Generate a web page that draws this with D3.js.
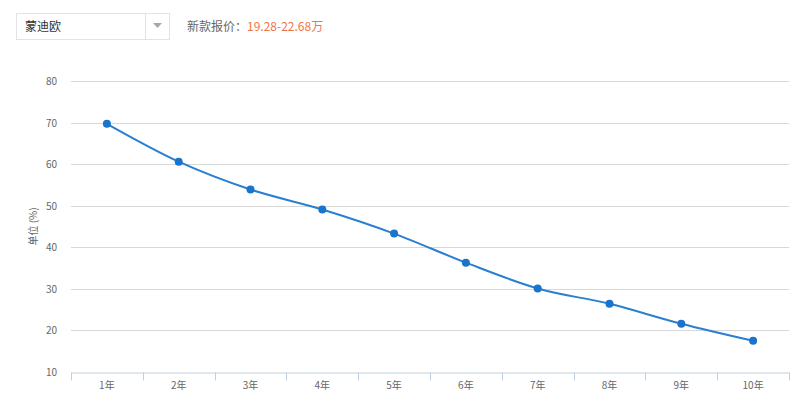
<!DOCTYPE html>
<html>
<head>
<meta charset="utf-8">
<script src="https://cdn.jsdelivr.net/npm/d3@7"></script>
<style>
  body { margin: 0; background: #fff; font-family: "Microsoft YaHei", "Noto Sans CJK SC", sans-serif; }
  svg text { font-family: "Noto Sans CJK SC", sans-serif; }
</style>
</head>
<body>
<script>
// chart data
var years = ["1年", "2年", "3年", "4年", "5年", "6年", "7年", "8年", "9年", "10年"];
var rates = [69.7, 60.6, 53.9, 49.1, 43.3, 36.3, 30.1, 26.4, 21.6, 17.5];
var yTicks = [10, 20, 30, 40, 50, 60, 70, 80];
var carName = "蒙迪欧";
var priceLabel = "新款报价：";
var priceRange = "19.28-22.68万";

var W = 800, H = 416;
var margin = {top: 81, right: 11, bottom: 44, left: 71};

var svg = d3.select("body").append("svg")
	.attr("width", W)
	.attr("height", H);

//////////////
// dropdown + price header
//////////////
var head = svg.append("g");
head.append("rect")
	.attr("x", 16.5).attr("y", 13.5)
	.attr("width", 153).attr("height", 26)
	.style("fill", "#fff").style("stroke", "#e3e3e3");
head.append("line")
	.attr("x1", 145.5).attr("x2", 145.5).attr("y1", 14).attr("y2", 39)
	.style("stroke", "#e3e3e3");
head.append("path")
	.attr("d", "M153,23 L162,23 L157.5,28 Z")
	.style("fill", "#a8a8a8");
head.append("text")
	.attr("x", 25).attr("y", 31)
	.style("font-size", "12px").style("fill", "#333")
	.text(carName);
var price = head.append("text")
	.attr("x", 187).attr("y", 31)
	.style("font-size", "12px");
price.append("tspan").style("fill", "#666").text(priceLabel);
price.append("tspan").style("fill", "#f0754a").text(priceRange);

//////////////
// scales
//////////////
var x = d3.scaleBand()
	.domain(years)
	.range([margin.left, W - margin.right]);
var y = d3.scaleLinear()
	.domain([10, 80])
	.range([H - margin.bottom, margin.top]);

// grid lines
svg.append("g").selectAll("line")
	.data(yTicks.slice(1)).enter()
	.append("line")
	.attr("x1", margin.left).attr("x2", W - margin.right)
	.attr("y1", function(d) { return Math.round(y(d)) + 0.5; })
	.attr("y2", function(d) { return Math.round(y(d)) + 0.5; })
	.style("stroke", "#d8d8d8");

// y tick labels
svg.append("g").selectAll("text")
	.data(yTicks).enter()
	.append("text")
	.attr("x", 57)
	.attr("y", function(d) { return y(d) + 4; })
	.style("text-anchor", "end")
	.style("font-size", "10px")
	.style("fill", "#666")
	.text(function(d) { return d; });

// y title
svg.append("text")
	.attr("transform", "translate(37," + ((margin.top + H - margin.bottom) / 2) + ") rotate(-90)")
	.style("text-anchor", "middle")
	.style("font-size", "10px")
	.style("fill", "#666")
	.text("单位 (%)");

// x axis
var xAxis = d3.axisBottom(x).tickSize(0).tickPadding(9);
var gX = svg.append("g")
	.attr("transform", "translate(0," + (Math.round(y(10)) + 0.5) + ")")
	.call(xAxis);
gX.select(".domain").style("stroke", "#c0d0e0");
gX.selectAll("text").style("font-size", "10px").style("fill", "#666")
	.style("font-family", "'Noto Sans CJK SC', sans-serif");
// tick marks on band edges
var edges = years.map(function(d) { return x(d); }).concat([x.range()[1]]);
gX.append("g").selectAll("line")
	.data(edges).enter()
	.append("line")
	.attr("x1", function(d) { return Math.round(d) + 0.5; })
	.attr("x2", function(d) { return Math.round(d) + 0.5; })
	.attr("y1", 0).attr("y2", 8)
	.style("stroke", "#c0d0e0");

//////////////
// the line
//////////////
var pts = years.map(function(d, i) { return {k: d, v: rates[i]}; });
var line = d3.line()
	.x(function(d) { return x(d.k) + x.bandwidth() / 2; })
	.y(function(d) { return y(d.v); })
	.curve(d3.curveMonotoneX);

svg.append("path")
	.datum(pts)
	.attr("d", line)
	.style("fill", "none")
	.style("stroke", "#2a7fd0")
	.style("stroke-width", 2);

svg.append("g").selectAll("circle")
	.data(pts).enter()
	.append("circle")
	.attr("cx", function(d) { return x(d.k) + x.bandwidth() / 2; })
	.attr("cy", function(d) { return y(d.v); })
	.attr("r", 4)
	.style("fill", "#1a73cc");
</script>
</body>
</html>
